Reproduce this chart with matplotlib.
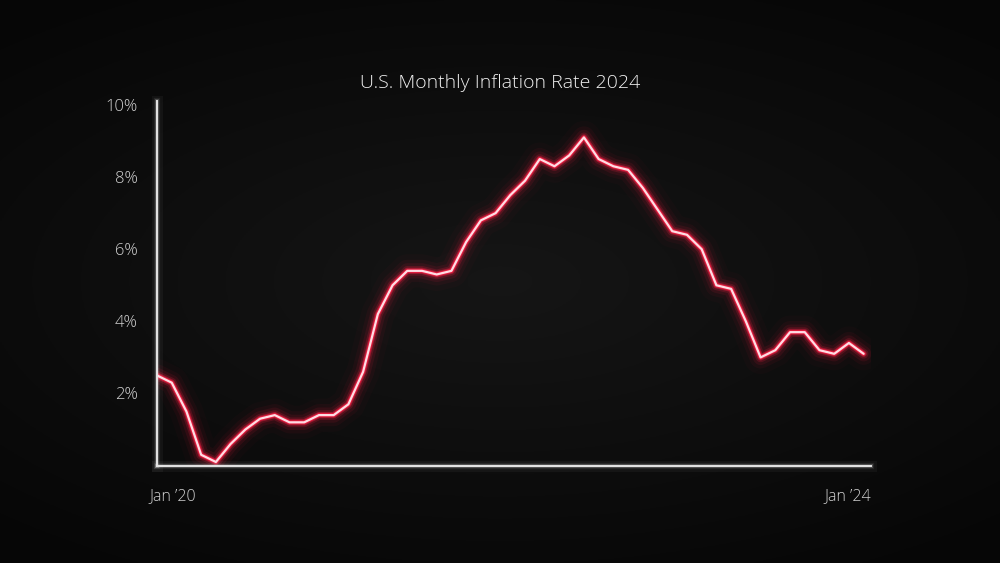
import numpy as np
import matplotlib
matplotlib.use('Agg')
import matplotlib.pyplot as plt

# Monthly inflation, Jan 2020 .. Jan 2024 (percent)
months = np.arange(49)
rate = [2.5, 2.3, 1.5, 0.3, 0.1, 0.6, 1.0, 1.3, 1.4, 1.2, 1.2, 1.4,
        1.4, 1.7, 2.6, 4.2, 5.0, 5.4, 5.4, 5.3, 5.4, 6.2, 6.8, 7.0,
        7.5, 7.9, 8.5, 8.3, 8.6, 9.1, 8.5, 8.3, 8.2, 7.7, 7.1, 6.5,
        6.4, 6.0, 5.0, 4.9, 4.0, 3.0, 3.2, 3.7, 3.7, 3.2, 3.1, 3.4, 3.1]
y_ticks = [2, 4, 6, 8, 10]
y_labels = ['2%', '4%', '6%', '8%', '10%']
x_labels = ["Jan \u201920", "Jan \u201924"]

plt.rcParams['font.family'] = ['Open Sans', 'DejaVu Sans']
plt.rcParams['font.weight'] = 'light'

fig = plt.figure(figsize=(10, 5.63), dpi=100)
fig.patch.set_facecolor('#0f0f0f')

# background vignette
bg = fig.add_axes([0, 0, 1, 1], zorder=-10)
yy, xx = np.mgrid[-1:1:300j, -1:1:500j]
r = np.sqrt((xx * 0.9) ** 2 + (yy * 1.1) ** 2)
shade = np.clip(0.085 - 0.045 * r, 0.025, 0.09)
bg.imshow(np.dstack([shade, shade, shade]), aspect='auto', extent=(0, 1, 0, 1))
bg.set_axis_off()

ax = fig.add_axes([0.157, 0.173, 0.714, 0.647])
ax.set_facecolor('none')

# neon glow
glow = '#ff1f45'
for lw, a in [(24, 0.025), (16, 0.05), (11, 0.09), (7, 0.18), (4.5, 0.38), (3, 0.75)]:
    ax.plot(months, rate, color=glow, lw=lw, alpha=a,
            solid_capstyle='round', solid_joinstyle='round')
ax.plot(months, rate, color='#ffdce3', lw=1.6,
        solid_capstyle='round', solid_joinstyle='round')

# glowing axes lines
for lw, a in [(8, 0.04), (4.5, 0.08), (2.8, 0.2)]:
    ax.plot([0, 0], [0, 1], transform=ax.transAxes, color='white', lw=lw,
            alpha=a, clip_on=False)
    ax.plot([0, 1], [0, 0], transform=ax.transAxes, color='white', lw=lw,
            alpha=a, clip_on=False)
ax.plot([0, 0], [0, 1], transform=ax.transAxes, color='#e6e6e6', lw=1.4, clip_on=False)
ax.plot([0, 1], [0, 0], transform=ax.transAxes, color='#e6e6e6', lw=1.4, clip_on=False)

for s in ax.spines.values():
    s.set_visible(False)

ax.set_xlim(0, 48.5)
ax.set_ylim(0, 10.1)
ax.set_yticks(y_ticks)
ax.set_yticklabels(y_labels)
ax.tick_params(axis='y', length=0, pad=14, labelsize=12, labelcolor='#d2d2d2')
ax.set_xticks([])

ax.text(-0.01, -0.085, x_labels[0], transform=ax.transAxes, ha='left', va='center',
        color='#d2d2d2', fontsize=11.5)
ax.text(1.0, -0.085, x_labels[1], transform=ax.transAxes, ha='right', va='center',
        color='#d2d2d2', fontsize=11.5)

fig.text(0.5, 0.852, 'U.S. Monthly Inflation Rate 2024', ha='center', va='center',
         color='#f0f0f0', fontsize=14)

fig.savefig('out.png', dpi=100, facecolor=fig.get_facecolor())
